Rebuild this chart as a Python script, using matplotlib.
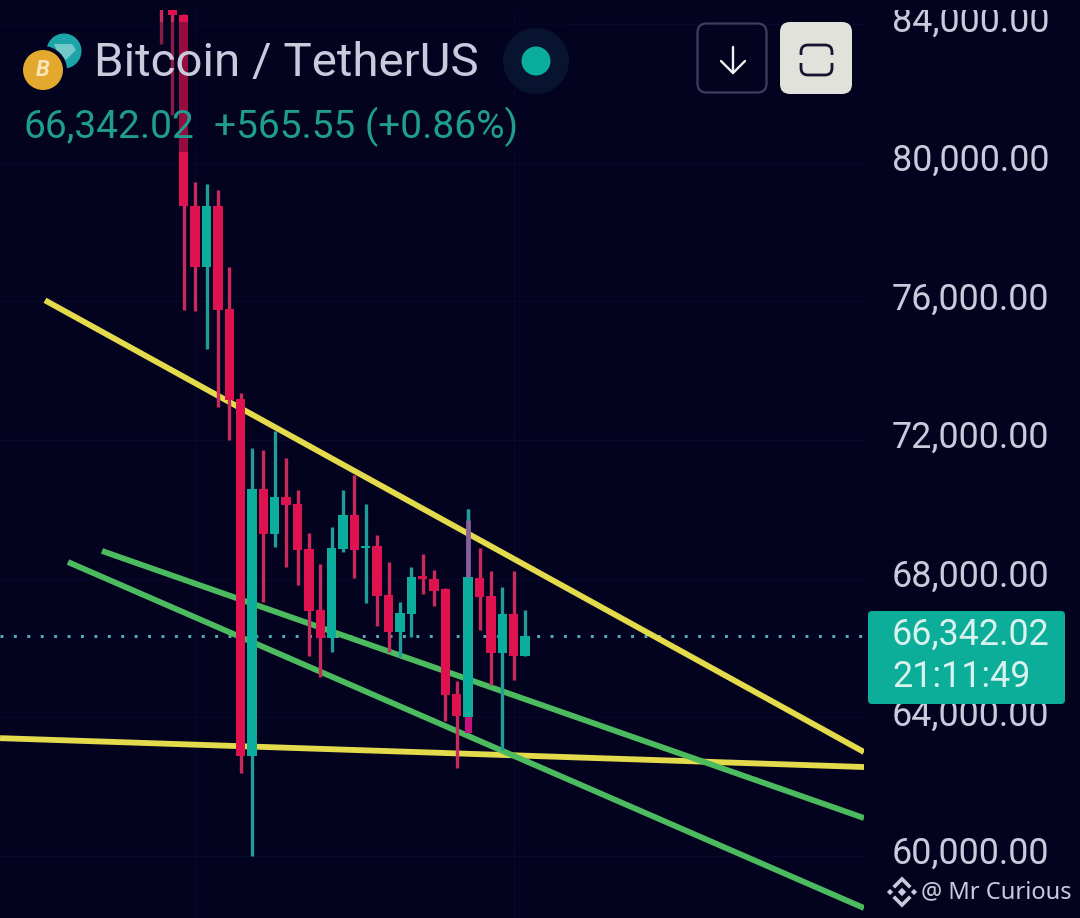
import matplotlib
matplotlib.use("Agg")
import matplotlib.pyplot as plt
from matplotlib.patches import Circle, FancyBboxPatch, Rectangle, Polygon
from matplotlib.transforms import ScaledTranslation

plt.rcParams['font.family'] = ['Roboto', 'DejaVu Sans']

# Daily candles of BTC/USDT
opens = [84500, 84600, 84259, 78750, 76990, 78750, 75779, 73182, 62884, 70586, 69288,
         70355, 70154, 68856, 67096, 66288, 68856, 69836, 68884, 68942, 67529, 66462,
         66980, 68077, 67990, 67702, 64673, 64009, 68019, 67500, 65855, 66980, 65769]
closes = [84420, 84259, 78750, 76990, 78750, 75750, 73154, 62884, 70586, 69288, 70355,
          70125, 68827, 67067, 66288, 68884, 69836, 68827, 68942, 67500, 66462, 67010,
          68048, 67990, 67644, 64644, 64038, 68048, 67471, 65855, 66980, 65769, 66342.02]
highs = [84700, 84700, 84288, 79442, 79384, 79211, 76990, 73355, 71769, 71711, 72259,
         71480, 70557, 69317, 68423, 69490, 70557, 70990, 70154, 69259, 68481, 67327,
         68336, 68711, 68250, 67730, 65048, 70009, 68884, 68221, 67759, 68221, 67096]
lows = [83423, 81375, 75750, 75721, 74625, 72952, 72000, 62394, 60000, 67327, 68913,
        68336, 67817, 65769, 65163, 65885, 68769, 68019, 67298, 66634, 65885, 65740,
        66317, 67557, 67211, 63894, 62538, 63548, 66519, 64932, 63058, 65077, 65769]

# Remains of an underlying candle visible at index 27
ghost_index = 27
ghost_top = [69692, 68048]
ghost_bottom = [64009, 63548]

# Trend lines: (start index, end index), (start price, end price)
yellow_upper = ([-10.2, 61.8], [76030, 63000])
yellow_lower = ([-14.15, 61.8], [63400, 62567])
green_upper = ([-5.19, 61.8], [68800, 61096])
green_lower = ([-8.18, 61.8], [68480, 58500])

last_price = 66342.02
price_ticks = [60000, 64000, 68000, 72000, 76000, 80000, 84000]
grid_indices = [3, 31]

BG = '#03031f'
RED = '#de124e'
TEAL = '#0bae9d'
RED_WICK = '#c92a5c'
TEAL_WICK = '#1f9d98'
YELLOW = '#e3da4c'
GREEN = '#4cba5e'
LABEL = '#c9cbdd'

fig = plt.figure(figsize=(10.8, 9.18), dpi=100, facecolor=BG)
ax = fig.add_axes([0, 0, 864 / 1080, 908 / 918], facecolor=BG)
ax.set_xlim(-14.154, 61.8)
ax.set_ylim(58212, 84404)

for s in ax.spines.values():
    s.set_visible(False)
ax.yaxis.tick_right()
ax.set_yticks(price_ticks)
ax.set_yticklabels([f'{p:,.2f}' for p in price_ticks])
ax.set_xticks(grid_indices)
ax.tick_params(axis='x', length=0, labelbottom=False)
ax.tick_params(axis='y', length=0, pad=20, labelsize=25.8, labelcolor=LABEL)
shift = ScaledTranslation(0, 6 / 100, fig.dpi_scale_trans)
for lab in ax.get_yticklabels():
    lab.set_transform(lab.get_transform() + shift)
ax.grid(True, color='#08082a', lw=1.0, zorder=0)
ax.set_axisbelow(True)

ax.axhline(last_price, color='#58b0b2', lw=2.1, ls=(0, (1, 3.6)), zorder=1)

for (xs, ys), col in [(yellow_upper, YELLOW), (yellow_lower, YELLOW),
                      (green_upper, GREEN), (green_lower, GREEN)]:
    ax.plot(xs, ys, color=col, lw=4.2, solid_capstyle='butt', zorder=2)

idx = list(range(len(opens)))
for i, o, c, h, l in zip(idx, opens, closes, highs, lows):
    up = c >= o
    ax.vlines(i, l, h, color=TEAL_WICK if up else RED_WICK, lw=2.4, zorder=3)
    ax.bar(i, abs(c - o), bottom=min(o, c), width=0.82,
           color=TEAL if up else RED, zorder=4, linewidth=0)

ax.vlines(ghost_index, ghost_top[1], ghost_top[0], color='#8a5f9e', lw=3.4, zorder=5)
ax.bar(ghost_index, ghost_bottom[0] - ghost_bottom[1], bottom=ghost_bottom[1], width=0.6,
       color='#c9107c', zorder=5, linewidth=0)
ax.vlines(ghost_index, 69692, highs[ghost_index], color=TEAL_WICK, lw=2.4, zorder=5)

# Screen furniture, in a pixel overlay
ov = fig.add_axes([0, 0, 1, 1], facecolor='none')
ov.set_xlim(0, 1080)
ov.set_ylim(918, 0)
ov.axis('off')

ov.add_patch(Rectangle((0, 0), 1080, 10, color=BG, lw=0, zorder=1))
ov.add_patch(Rectangle((0, 22), 570, 130, color=BG, alpha=0.33, lw=0, zorder=1))

# coin icons
ov.add_patch(Circle((64, 51), 17.5, color='#1ba5a8', lw=0, zorder=2))
ov.add_patch(Polygon([(54, 44), (72, 44), (76, 50), (66, 60), (58, 53)], fc='#bfe6e6', ec='none', alpha=0.55, zorder=3))
ov.add_patch(Circle((43, 70), 24, color=BG, lw=0, zorder=4))
ov.add_patch(Circle((43, 70), 20, color='#e5a82f', lw=0, zorder=5))
ov.text(43, 70, 'B', color='#f8e6b8', fontsize=16, fontweight='bold', style='italic',
        ha='center', va='center', zorder=6)

ov.text(94, 63, 'Bitcoin / TetherUS', color=LABEL, fontsize=34.2, ha='left', va='center', zorder=6)
ov.text(24, 127, '66,342.02', color='#1f9d8f', fontsize=28, ha='left', va='center', zorder=6)
ov.text(214, 127, '+565.55 (+0.86%)', color='#1f9d8f', fontsize=28, ha='left', va='center', zorder=6)

# status dot
ov.add_patch(Circle((536, 61), 33, color='#07132f', lw=0, zorder=2))
ov.add_patch(Circle((536, 61), 14.5, color=TEAL, lw=0, zorder=3))

# buttons
ov.add_patch(FancyBboxPatch((703, 29), 58, 58, boxstyle='round,pad=5.5,rounding_size=9',
                            fc='none', ec='#3c3f5c', lw=1.6, zorder=3))
ov.plot([733, 733], [47, 73], color='#f2f2f2', lw=1.7, zorder=4, solid_capstyle='round')
ov.plot([721, 733, 745], [61, 73, 61], color='#f2f2f2', lw=1.7, zorder=4, solid_capstyle='round')
ov.add_patch(FancyBboxPatch((786, 28), 60, 60, boxstyle='round,pad=6,rounding_size=10',
                            fc='#e2e2dc', ec='none', zorder=3))
ov.add_patch(FancyBboxPatch((801, 45), 31, 30, boxstyle='round,pad=0,rounding_size=7',
                            fc='none', ec='#15152f', lw=2.0, zorder=4))
ov.add_patch(Rectangle((796, 55), 42, 8, color='#e2e2dc', lw=0, zorder=5))

# price label
ov.add_patch(FancyBboxPatch((868, 611), 197, 93, boxstyle='round,pad=0,rounding_size=4',
                            fc='#0cae9a', ec='none', zorder=6))
ov.text(892, 635, f'{last_price:,.2f}', color='#d9f2ee', fontsize=25.8, ha='left', va='center', zorder=7)
ov.text(892, 677, '21:11:49', color='#d9f2ee', fontsize=25.8, ha='left', va='center', zorder=7)

# watermark
ov.plot([895, 902, 909], [886, 879, 886], color=LABEL, lw=2.6, zorder=7, solid_joinstyle='miter')
ov.plot([895, 902, 909], [898, 905, 898], color=LABEL, lw=2.6, zorder=7, solid_joinstyle='miter')
ov.scatter([890, 902, 914], [892, 892, 892], marker='D', s=[10, 18, 10], color=LABEL, linewidths=0, zorder=7)
ov.text(921, 892, '@ Mr Curious', color=LABEL, fontsize=17, ha='left', va='center', zorder=7,
        family=['Noto Sans'])

fig.savefig('out.png', dpi=100, facecolor=BG)
